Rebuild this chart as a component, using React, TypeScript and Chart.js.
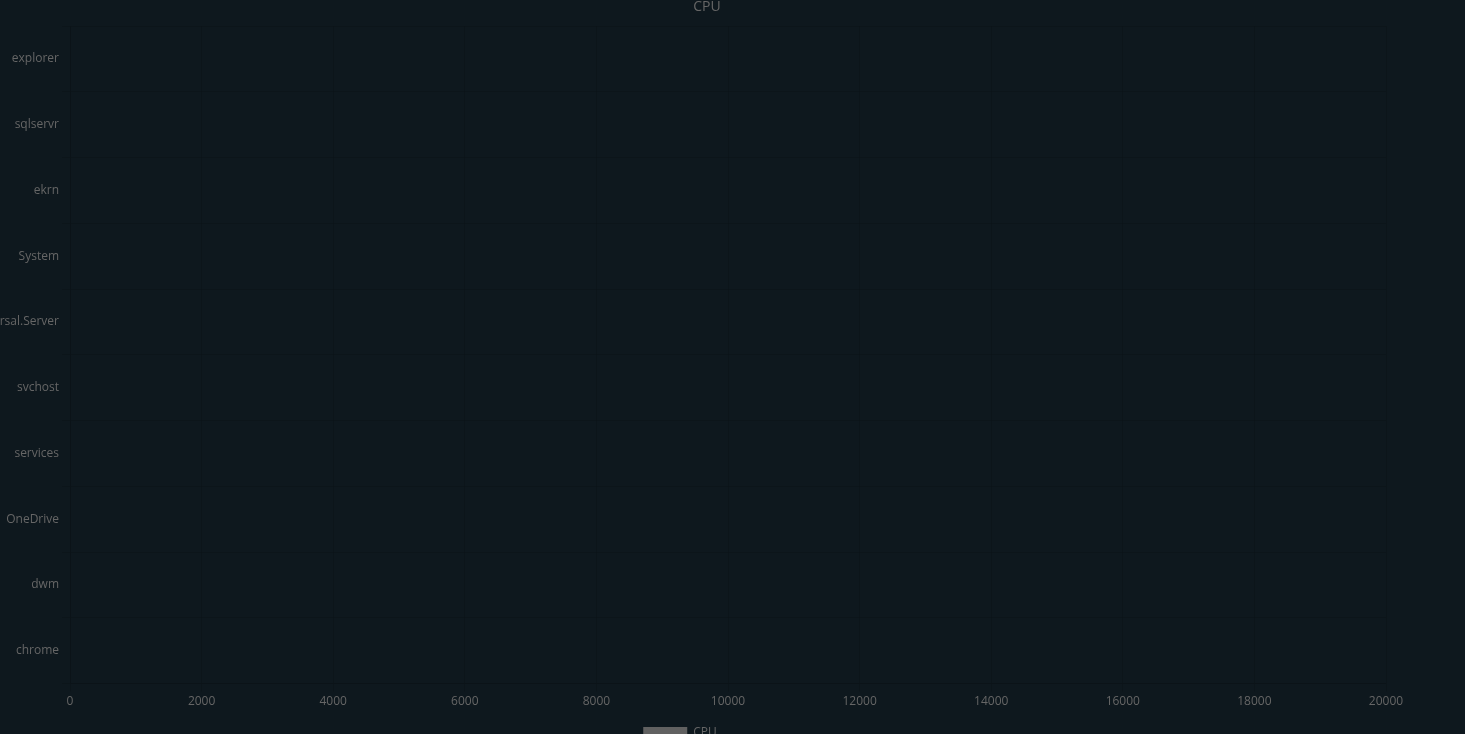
import React, { useEffect, useRef } from "react";
import { Chart, registerables } from "chart.js";

Chart.register(...registerables);

const TITLE = "CPU";
const SERIES_LABEL = "CPU";
const PROCESSES = [
  "explorer",
  "sqlservr",
  "ekrn",
  "System",
  "Universal.Server",
  "svchost",
  "services",
  "OneDrive",
  "dwm",
  "chrome",
];
const CPU_VALUES = [0, 0, 0, 0, 0, 0, 0, 0, 0, 0];
const X_TICKS = [0, 2000, 4000, 6000, 8000, 10000, 12000, 14000, 16000, 18000, 20000];
const X_TICK_LABELS = ["0", "2000", "4000", "6000", "8000", "10000", "12000", "14000", "16000", "18000", "20000"];

const BG = "#0e181e";
const TEXT = "#666666";
const GRID = "rgba(0,0,0,0.1)";
const BAR = "#616161";
const FONT = "'Open Sans', 'Noto Sans', Roboto, sans-serif";

const boxShift = {
  id: "boxShift",
  afterLayout(chart: any) {
    const l = chart.legend;
    if (l) {
      l.left -= 13;
      l.right -= 13;
    }
    const t = chart.titleBlock;
    if (t) {
      t.left += 14;
      t.right += 14;
    }
  },
};

export default function App() {
  const ref = useRef<HTMLCanvasElement | null>(null);

  useEffect(() => {
    if (!ref.current) return;
    const chart = new Chart(ref.current, {
      type: "bar",
      data: {
        labels: PROCESSES,
        datasets: [
          {
            label: SERIES_LABEL,
            data: CPU_VALUES,
            backgroundColor: BAR,
            borderWidth: 0,
          },
        ],
      },
      plugins: [boxShift],
      options: {
        indexAxis: "y",
        responsive: false,
        animation: false,
        devicePixelRatio: 1,
        layout: { padding: { left: 0, right: 28, top: 0, bottom: 0 } },
        font: { family: FONT, size: 12 },
        color: TEXT,
        plugins: {
          title: {
            display: true,
            text: TITLE,
            color: TEXT,
            font: { family: FONT, size: 14, weight: "normal" },
            padding: { top: 8.6, bottom: 10.6 },
          },
          legend: {
            display: true,
            position: "bottom",
            labels: {
              color: TEXT,
              font: { family: FONT, size: 12 },
              boxWidth: 44,
              boxHeight: 12,
              padding: 15,
            },
          },
          tooltip: { enabled: false },
        },
        scales: {
          x: {
            type: "linear",
            min: 0,
            max: 20000,
            afterBuildTicks: (axis: any) => {
              axis.ticks = X_TICKS.map((v) => ({ value: v }));
            },
            ticks: {
              color: TEXT,
              font: { family: FONT, size: 12 },
              padding: 3,
              maxRotation: 0,
              callback: (v: any) => {
                const i = X_TICKS.indexOf(Number(v));
                return i >= 0 ? X_TICK_LABELS[i] : String(v);
              },
            },
            grid: { color: GRID, tickLength: 8 },
            border: { color: GRID },
          },
          y: {
            afterFit: (scale: any) => {
              scale.width = 70;
            },
            ticks: {
              color: TEXT,
              font: { family: FONT, size: 12 },
              padding: 3,
              autoSkip: false,
            },
            grid: { color: GRID, tickLength: 8 },
            border: { color: GRID },
          },
        },
      },
    });
    return () => chart.destroy();
  }, []);

  return (
    <div
      style={{
        position: "fixed",
        left: 0,
        top: 0,
        width: "100vw",
        height: "100vh",
        background: BG,
        overflow: "hidden",
      }}
    >
      <canvas
        ref={ref}
        width={1414}
        height={759}
        style={{ position: "absolute", left: 0, top: -10, width: 1414, height: 759, display: "block" }}
      />
    </div>
  );
}
